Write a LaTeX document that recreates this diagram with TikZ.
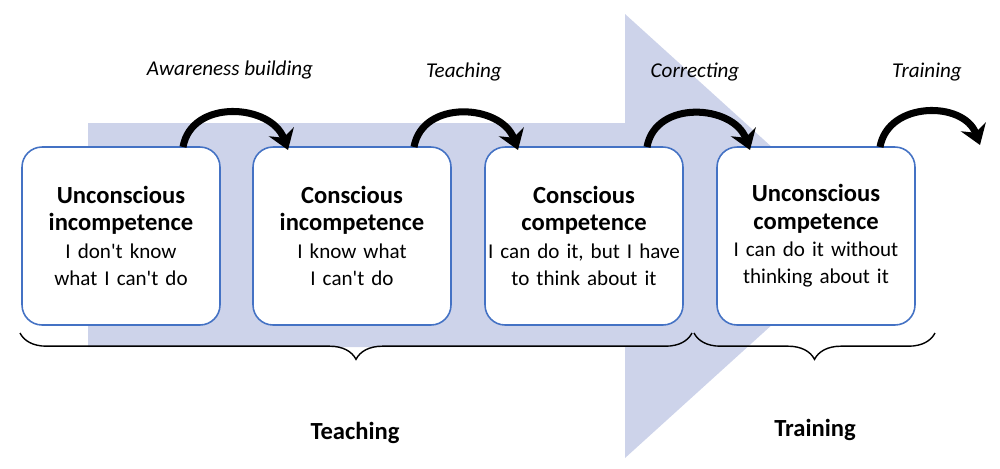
\documentclass[tikz,border=0pt]{standalone}
\usepackage{fontspec}
\setmainfont{Carlito}
\usetikzlibrary{arrows.meta,decorations.pathreplacing}
\definecolor{arr}{HTML}{CDD3EA}
\definecolor{bord}{HTML}{4472C4}
\newcommand{\ap}{\textquotesingle}
\begin{document}
\begin{tikzpicture}[x=0.02cm,y=-0.02cm,
  box/.style={draw=bord,line width=0.9pt,fill=white,rounded corners=0.4cm,minimum width=3.96cm,minimum height=3.56cm,inner xsep=1pt,align=center,font=\fontsize{12}{15.5}\selectfont,text width=3.85cm},
  lab/.style={font=\itshape\fontsize{12}{14}\selectfont},
  curv/.style={line width=4pt,-{Stealth[length=11pt,width=15pt]}},
  br/.style={decorate,decoration={brace,mirror,amplitude=15pt},line width=0.8pt},
  blab/.style={font=\bfseries\fontsize{14}{16}\selectfont}]
\useasboundingbox (0,0) rectangle (1000,468);
\fill[arr] (88,123) -- (625,123) -- (625,14) -- (870,236) -- (625,458) -- (625,347) -- (88,347) -- cycle;
\node[box] (b1) at (121,236) {{\bfseries\fontsize{14}{17}\selectfont Unconscious\\incompetence}\\I don\ap t know what I can\ap t do};
\node[box] (b2) at (352,236) {{\bfseries\fontsize{14}{17}\selectfont Conscious\\incompetence}\\I know what I can\ap t do};
\node[box] (b3) at (584,236) {{\bfseries\fontsize{14}{17}\selectfont Conscious\\competence}\\I can do it, but I have to think about it};
\node[box] (b4) at (816,236) {{\bfseries\fontsize{14}{17}\selectfont Unconscious\\competence}\\I can do it without thinking about it};
\coordinate (a1) at (183,147); \coordinate (e1) at (288,150);
\coordinate (a2) at (414,147); \coordinate (e2) at (518,150);
\coordinate (a3) at (647,147); \coordinate (e3) at (750,150);
\coordinate (a4) at (880,147); \coordinate (e4) at (980,145);
\draw[curv] (a1) to[out=80,in=110,looseness=1.2] (e1);
\draw[curv] (a2) to[out=80,in=110,looseness=1.2] (e2);
\draw[curv] (a3) to[out=80,in=110,looseness=1.2] (e3);
\draw[curv] (a4) to[out=80,in=110,looseness=1.2] (e4);
\node[lab] (l1) at (230,70) {Awareness building};
\node[lab] (l2) at (464,72) {Teaching};
\node[lab] (l3) at (695,72) {Correcting};
\node[lab] (l4) at (927,72) {Training};
\coordinate (c1) at (20,333); \coordinate (c2) at (692,333);
\coordinate (c3) at (694,333); \coordinate (c4) at (935,333);
\draw[br] (c1) -- (c2);
\draw[br] (c3) -- (c4);
\node[blab] (t1) at (355,433) {Teaching};
\node[blab] (t2) at (815,430) {Training};
\end{tikzpicture}
\end{document}
